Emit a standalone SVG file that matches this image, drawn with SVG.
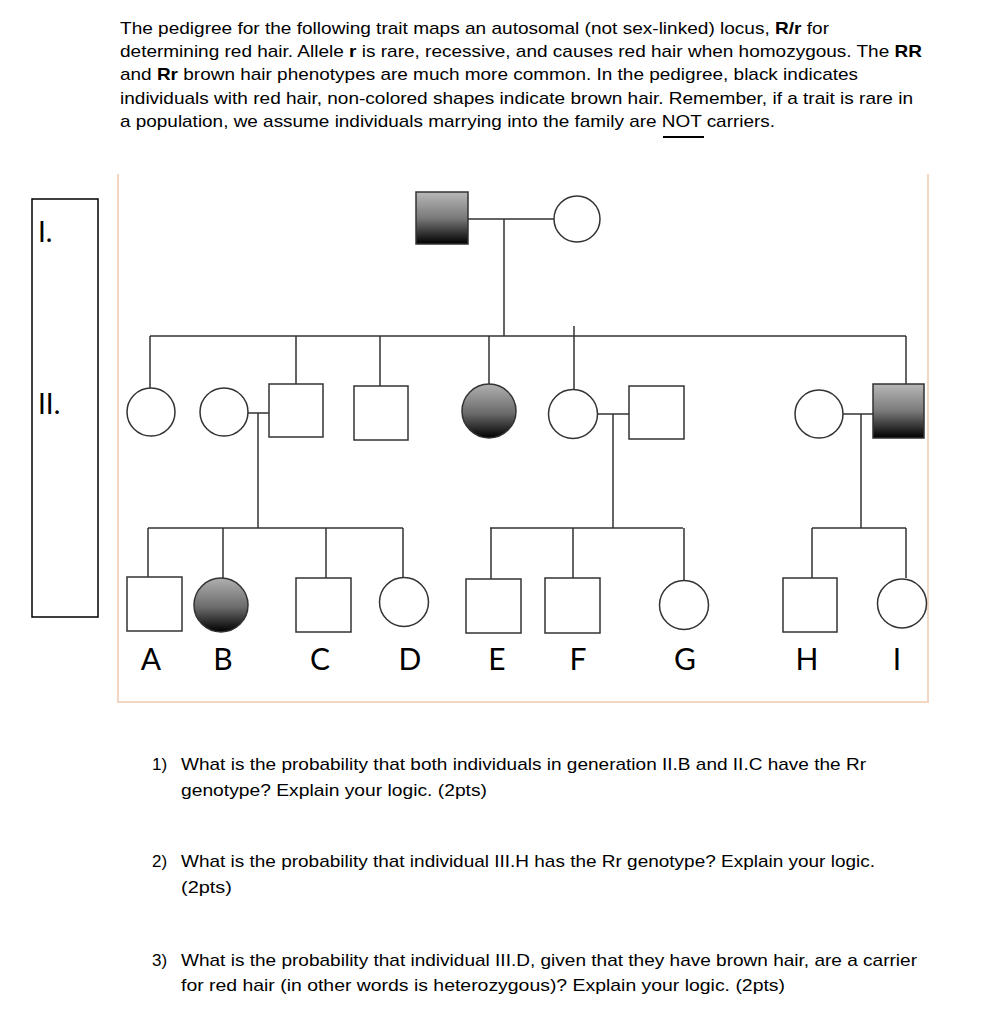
<svg xmlns="http://www.w3.org/2000/svg" width="993" height="1024" viewBox="0 0 993 1024">
<defs>
<linearGradient id="gsq" x1="0" y1="0" x2="0" y2="1">
<stop offset="0" stop-color="#b8b8b8"/>
<stop offset="0.5" stop-color="#7a7a7a"/>
<stop offset="1" stop-color="#000"/>
</linearGradient>
<linearGradient id="gci" x1="0" y1="0" x2="0" y2="1">
<stop offset="0" stop-color="#b0b0b0"/>
<stop offset="0.55" stop-color="#6a6a6a"/>
<stop offset="1" stop-color="#000"/>
</linearGradient>
</defs>
<style>
.t{font-family:"Liberation Sans",Arial,sans-serif;font-size:17px;fill:#000}
.b{font-weight:bold}
.lab{font-family:Lato,"Open Sans",sans-serif;font-size:30px;fill:#000;text-anchor:middle}
.gen{font-family:Lato,"Open Sans",sans-serif;font-size:28px;fill:#000}
.ln{stroke:#333;stroke-width:1.5;fill:none}
.m{fill:#fff;stroke:#333;stroke-width:1.5}
.a{stroke:#333;stroke-width:1.5}
</style>
<rect width="993" height="1024" fill="#fff"/>
<g id="intro">
<text class="t" x="120" y="34" textLength="709" lengthAdjust="spacingAndGlyphs">The pedigree for the following trait maps an autosomal (not sex-linked) locus, <tspan class="b">R/r</tspan> for</text>
<text class="t" x="120" y="57" textLength="802" lengthAdjust="spacingAndGlyphs">determining red hair. Allele <tspan class="b">r</tspan> is rare, recessive, and causes red hair when homozygous. The <tspan class="b">RR</tspan></text>
<text class="t" x="120" y="80" textLength="738" lengthAdjust="spacingAndGlyphs">and <tspan class="b">Rr</tspan> brown hair phenotypes are much more common. In the pedigree, black indicates</text>
<text class="t" x="120" y="104" textLength="793" lengthAdjust="spacingAndGlyphs">individuals with red hair, non-colored shapes indicate brown hair. Remember, if a trait is rare in</text>
<text class="t" x="120" y="127" textLength="655" lengthAdjust="spacingAndGlyphs">a population, we assume individuals marrying into the family are NOT carriers.</text>
<line x1="663" y1="137" x2="704" y2="137" stroke="#000" stroke-width="2"/>
</g>
<g id="frame">
<path d="M118,174 V702 H928 V174" fill="none" stroke="#f3d6c2" stroke-width="2"/>
</g>
<g id="generations">
<rect x="32" y="199" width="66" height="418" fill="none" stroke="#000" stroke-width="1.5"/>
<text class="gen" x="38" y="242">I.</text>
<text class="gen" x="38" y="414">II.</text>
</g>
<g id="connectors">
<path class="ln" d="M468,219 H554 M504,219 V336 M150,336 H906 M150,336 V388 M296,336 V384 M380,336 V386 M489,336 V384 M574,326 V389 M906,336 V384"/>
<path class="ln" d="M248,413 H269 M258,413 V528 M148,528 H403 M148,528 V577 M223,528 V578 M326,528 V578 M403,528 V577"/>
<path class="ln" d="M597,414 H629 M613,414 V528 M490,528 H683 M491,528 V579 M573,528 V578 M684,528 V580"/>
<path class="ln" d="M843,414 H873 M861,414 V528 M812,528 H906 M812,528 V578 M906,528 V578"/>
</g>
<g id="I-1"><rect x="416" y="192" width="52" height="52" fill="url(#gsq)" class="a"/></g>
<g id="I-2"><circle cx="577" cy="219" r="23" class="m"/></g>
<g id="II-1"><circle cx="151" cy="412" r="24" class="m"/></g>
<g id="II-2"><circle cx="224" cy="412" r="24" class="m"/></g>
<g id="II-3"><rect x="269" y="384" width="54" height="53" class="m"/></g>
<g id="II-4"><rect x="354" y="386" width="54" height="54" class="m"/></g>
<g id="II-5"><circle cx="489" cy="411" r="27" fill="url(#gci)" class="a"/></g>
<g id="II-6"><circle cx="573" cy="414" r="24.5" class="m"/></g>
<g id="II-7"><rect x="629" y="386" width="55" height="53" class="m"/></g>
<g id="II-8"><circle cx="819" cy="414" r="24" class="m"/></g>
<g id="II-9"><rect x="873" y="384" width="51" height="54" fill="url(#gsq)" class="a"/></g>
<g id="III-A"><rect x="127" y="577" width="55" height="54" class="m"/></g>
<g id="III-B"><circle cx="221" cy="605" r="27" fill="url(#gci)" class="a"/></g>
<g id="III-C"><rect x="296" y="578" width="55" height="54" class="m"/></g>
<g id="III-D"><circle cx="404" cy="602" r="24.5" class="m"/></g>
<g id="III-E"><rect x="466" y="579" width="55" height="54" class="m"/></g>
<g id="III-F"><rect x="545" y="578" width="55" height="55" class="m"/></g>
<g id="III-G"><circle cx="684" cy="605" r="24.5" class="m"/></g>
<g id="III-H"><rect x="783" y="578" width="54" height="54" class="m"/></g>
<g id="III-I"><circle cx="902" cy="603.5" r="24.5" class="m"/></g>
<g id="labels">
<text class="lab" x="151" y="670">A</text>
<text class="lab" x="223" y="670">B</text>
<text class="lab" x="320" y="670">C</text>
<text class="lab" x="410" y="670">D</text>
<text class="lab" x="497" y="670">E</text>
<text class="lab" x="578" y="670">F</text>
<text class="lab" x="685" y="670">G</text>
<text class="lab" x="807" y="670">H</text>
<text class="lab" x="897" y="670">I</text>
</g>
<g id="questions">
<text class="t" x="152" y="770">1)</text>
<text class="t" x="181" y="770" textLength="685" lengthAdjust="spacingAndGlyphs">What is the probability that both individuals in generation II.B and II.C have the Rr</text>
<text class="t" x="181" y="796" textLength="306" lengthAdjust="spacingAndGlyphs">genotype? Explain your logic. (2pts)</text>
<text class="t" x="152" y="867">2)</text>
<text class="t" x="181" y="867" textLength="694" lengthAdjust="spacingAndGlyphs">What is the probability that individual III.H has the Rr genotype? Explain your logic.</text>
<text class="t" x="181" y="893" textLength="51" lengthAdjust="spacingAndGlyphs">(2pts)</text>
<text class="t" x="152" y="966">3)</text>
<text class="t" x="181" y="966" textLength="736" lengthAdjust="spacingAndGlyphs">What is the probability that individual III.D, given that they have brown hair, are a carrier</text>
<text class="t" x="181" y="991" textLength="604" lengthAdjust="spacingAndGlyphs">for red hair (in other words is heterozygous)? Explain your logic. (2pts)</text>
</g>
</svg>
